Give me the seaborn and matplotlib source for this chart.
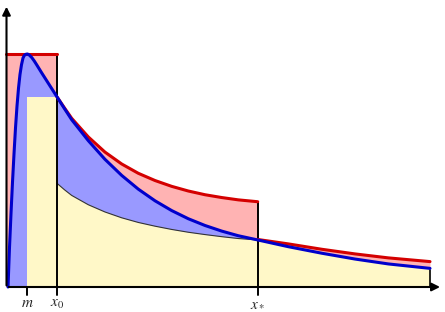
import matplotlib
matplotlib.use("Agg")
import matplotlib.pyplot as plt
import seaborn as sns

# key abscissae (m = mode, x0, x_star, x_end = right cut)
m = 0.41
x0 = 1.0
x_star = 4.974
x_end = 8.386

# density f on [0, x0]
x_left = [0.03, 0.059, 0.089, 0.119, 0.149, 0.178, 0.208, 0.238, 0.267, 0.297, 0.327,
          0.356, 0.386, 0.416, 0.45, 0.5, 0.55, 0.6, 0.7, 0.8, 0.9, 1.0]
f_left = [0.0, 0.167, 0.315, 0.451, 0.573, 0.682, 0.777, 0.854, 0.912, 0.954, 0.983,
          0.995, 0.999, 1.0, 0.996, 0.985, 0.97, 0.953, 0.918, 0.884, 0.85, 0.816]

# middle section [x0, x*]: density, hat, squeeze
x_mid = [1.0, 1.15, 1.291, 1.62, 1.95, 2.281, 2.61, 2.941, 3.271, 3.6, 3.931, 4.261, 4.59, 4.974]
f_mid = [0.816, 0.765, 0.718, 0.628, 0.548, 0.479, 0.42, 0.37, 0.328, 0.293, 0.264, 0.24, 0.22, 0.202]
hat_mid = [0.816, 0.768, 0.724, 0.644, 0.579, 0.528, 0.488, 0.457, 0.432, 0.412, 0.396, 0.384, 0.374, 0.366]
squeeze_mid = [0.445, 0.417, 0.393, 0.353, 0.322, 0.297, 0.277, 0.261, 0.247, 0.235, 0.225, 0.216, 0.208, 0.202]

# tail [x*, x_end]
x_tail = [4.974, 5.58, 6.242, 6.901, 7.56, 8.386]
f_tail = [0.202, 0.173, 0.145, 0.12, 0.099, 0.08]
hat_tail = [0.204, 0.185, 0.162, 0.142, 0.125, 0.109]

hat_top = 1.0
rect_top = f_left[-1]

tick_names = ["$m$", "$x_0$", "$x_*$"]
tick_pos = [m, x0, x_star]

pink = "#ffb3b3"
lblue = "#9999ff"
yellow = "#fff8c8"
red = "#d40000"
blue = "#0000cc"

sns.set_style("white")
plt.rcParams["mathtext.fontset"] = "stix"

fig = plt.figure(figsize=(4.45, 3.12), dpi=100)
ax = fig.add_axes([0, 0, 1, 1])
ax.set_xlim(-0.1287, 8.683)
ax.set_ylim(-0.1073, 1.2318)
ax.axis("off")

# left part
ax.fill_between([0, x0], 0, hat_top, color=pink, lw=0)
ax.fill_between(x_left, 0, f_left, color=lblue, lw=0)
ax.fill_between([m, x0], 0, rect_top, color=yellow, lw=0)

# middle part
ax.fill_between(x_mid, f_mid, hat_mid, color=pink, lw=0)
ax.fill_between(x_mid, squeeze_mid, f_mid, color=lblue, lw=0)
ax.fill_between(x_mid, 0, squeeze_mid, color=yellow, lw=0)

# tail
ax.fill_between(x_tail, f_tail, hat_tail, color=pink, lw=0)
ax.fill_between(x_tail, 0, f_tail, color=yellow, lw=0)

# squeeze border
sns.lineplot(x=x_mid, y=squeeze_mid, ax=ax, color="#333333", lw=0.8)

# black vertical lines
ax.plot([x0, x0], [-0.034, hat_top], color="black", lw=1.4)
ax.plot([x_star, x_star], [-0.034, hat_mid[-1]], color="black", lw=1.4)
ax.plot([x_end, x_end], [0, f_tail[-1] - 0.008], color="black", lw=1.2)
ax.plot([m, m], [-0.034, 0], color="black", lw=1.4)

# hat (red) and density (blue)
sns.lineplot(x=[0, x0], y=[hat_top, hat_top], ax=ax, color=red, lw=2.2)
sns.lineplot(x=x_mid, y=hat_mid, ax=ax, color=red, lw=2.2)
sns.lineplot(x=x_tail, y=hat_tail, ax=ax, color=red, lw=2.2)
sns.lineplot(x=x_left + x_mid[1:] + x_tail[1:], y=f_left + f_mid[1:] + f_tail[1:],
             ax=ax, color=blue, lw=2.2, sort=False)

# axes with arrows
ax.annotate("", xy=(8.64, 0), xytext=(-0.01, 0),
            arrowprops=dict(arrowstyle="-|>", color="black", lw=1.5, mutation_scale=12))
ax.annotate("", xy=(0, 1.215), xytext=(0, -0.005),
            arrowprops=dict(arrowstyle="-|>", color="black", lw=1.5, mutation_scale=12))

for name, pos in zip(tick_names, tick_pos):
    ax.text(pos, -0.086, name, ha="center", va="baseline", fontsize=11)

fig.savefig("out.png", dpi=100)
